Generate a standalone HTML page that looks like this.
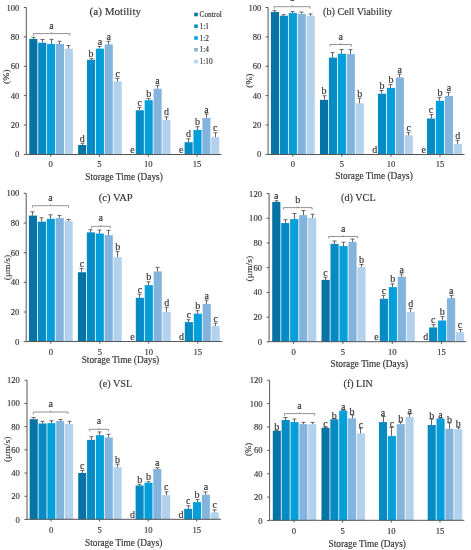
<!DOCTYPE html>
<html><head><meta charset="utf-8"><style>
html,body{margin:0;padding:0;background:#fff;}
body{width:471px;height:550px;overflow:hidden;}
svg{display:block;will-change:transform;}
text{font-family:"Liberation Serif", serif;fill:#333;stroke:#333;stroke-width:0.15px;}
</style></head><body>
<svg width="471" height="550" viewBox="0 0 471 550">
<rect width="471" height="550" fill="#fff"/>
<rect x="29.3" y="38.94" width="8.08" height="115.46" fill="#0573a5"/>
<path d="M33.5 38.94V37.32M31.5 37.32H35.5" stroke="#555" stroke-width="0.9" fill="none"/>
<rect x="38.18" y="42.76" width="8.08" height="111.64" fill="#078bc5"/>
<path d="M42.5 42.76V39.52M40.5 39.52H44.5" stroke="#555" stroke-width="0.9" fill="none"/>
<rect x="47.06" y="43.93" width="8.08" height="110.47" fill="#049fdb"/>
<path d="M51.5 43.93V39.38M49.5 39.38H53.5" stroke="#555" stroke-width="0.9" fill="none"/>
<rect x="55.94" y="43.93" width="8.08" height="110.47" fill="#82b4de"/>
<path d="M59.5 43.93V41.29M57.5 41.29H61.5" stroke="#555" stroke-width="0.9" fill="none"/>
<rect x="64.82" y="48.78" width="8.08" height="105.62" fill="#b2d1ed"/>
<path d="M68.5 48.78V45.55M66.5 45.55H70.5" stroke="#555" stroke-width="0.9" fill="none"/>
<rect x="78.1" y="145" width="8.08" height="9.4" fill="#0573a5"/>
<path d="M82.5 145V143.24M80.5 143.24H84.5" stroke="#555" stroke-width="0.9" fill="none"/>
<text x="82.14" y="141.74" font-size="10.0" text-anchor="middle">d</text>
<rect x="86.98" y="59.8" width="8.08" height="94.6" fill="#078bc5"/>
<path d="M91.5 59.8V58.62M89.5 58.62H93.5" stroke="#555" stroke-width="0.9" fill="none"/>
<text x="91.02" y="57.12" font-size="10.0" text-anchor="middle">b</text>
<rect x="95.86" y="48.63" width="8.08" height="105.77" fill="#049fdb"/>
<path d="M99.5 48.63V46.43M97.5 46.43H101.5" stroke="#555" stroke-width="0.9" fill="none"/>
<text x="99.9" y="44.93" font-size="10.0" text-anchor="middle">a</text>
<rect x="104.74" y="44.37" width="8.08" height="110.03" fill="#82b4de"/>
<path d="M108.5 44.37V41.29M106.5 41.29H110.5" stroke="#555" stroke-width="0.9" fill="none"/>
<text x="108.78" y="39.79" font-size="10.0" text-anchor="middle">a</text>
<rect x="113.62" y="81.39" width="8.08" height="73.01" fill="#b2d1ed"/>
<path d="M117.5 81.39V78.31M115.5 78.31H119.5" stroke="#555" stroke-width="0.9" fill="none"/>
<text x="117.66" y="76.81" font-size="10.0" text-anchor="middle">c</text>
<text x="132.54" y="152.6" font-size="10.0" text-anchor="middle">e</text>
<rect x="135.78" y="110.26" width="8.08" height="44.14" fill="#078bc5"/>
<path d="M139.5 110.26V107.47M137.5 107.47H141.5" stroke="#555" stroke-width="0.9" fill="none"/>
<text x="139.82" y="105.97" font-size="10.0" text-anchor="middle">c</text>
<rect x="144.66" y="100.19" width="8.08" height="54.21" fill="#049fdb"/>
<path d="M148.5 100.19V98.58M146.5 98.58H150.5" stroke="#555" stroke-width="0.9" fill="none"/>
<text x="148.7" y="97.08" font-size="10.0" text-anchor="middle">b</text>
<rect x="153.54" y="88.74" width="8.08" height="65.66" fill="#82b4de"/>
<path d="M157.5 88.74V85.36M155.5 85.36H159.5" stroke="#555" stroke-width="0.9" fill="none"/>
<text x="157.58" y="83.86" font-size="10.0" text-anchor="middle">a</text>
<rect x="162.42" y="120.1" width="8.08" height="34.3" fill="#b2d1ed"/>
<path d="M166.5 120.1V116.87M164.5 116.87H168.5" stroke="#555" stroke-width="0.9" fill="none"/>
<text x="166.46" y="115.37" font-size="10.0" text-anchor="middle">d</text>
<text x="181.34" y="152.6" font-size="10.0" text-anchor="middle">e</text>
<rect x="184.58" y="142.21" width="8.08" height="12.19" fill="#078bc5"/>
<path d="M188.5 142.21V138.83M186.5 138.83H190.5" stroke="#555" stroke-width="0.9" fill="none"/>
<text x="188.62" y="137.33" font-size="10.0" text-anchor="middle">d</text>
<rect x="193.46" y="129.87" width="8.08" height="24.53" fill="#049fdb"/>
<path d="M197.5 129.87V126.78M195.5 126.78H199.5" stroke="#555" stroke-width="0.9" fill="none"/>
<text x="197.5" y="125.28" font-size="10.0" text-anchor="middle">b</text>
<rect x="202.34" y="117.97" width="8.08" height="36.43" fill="#82b4de"/>
<path d="M206.5 117.97V114M204.5 114H208.5" stroke="#555" stroke-width="0.9" fill="none"/>
<text x="206.38" y="112.5" font-size="10.0" text-anchor="middle">a</text>
<rect x="211.22" y="137.07" width="8.08" height="17.33" fill="#b2d1ed"/>
<path d="M215.5 137.07V132.81M213.5 132.81H217.5" stroke="#555" stroke-width="0.9" fill="none"/>
<text x="215.26" y="131.31" font-size="10.0" text-anchor="middle">c</text>
<path d="M33.3 35.6V33.6H69.8V35.6M51.55 33.6V32.3" stroke="#777" stroke-width="0.8" fill="none"/>
<text x="51.55" y="28.7" font-size="10.0" text-anchor="middle">a</text>
<path d="M26.3 7.5V154.5H221.5" stroke="#555" stroke-width="1" fill="none"/>
<path d="M23.8 154.4H26.3" stroke="#555" stroke-width="1"/>
<text x="19.3" y="157.4" font-size="8.6" text-anchor="end">0</text>
<path d="M23.8 125.02H26.3" stroke="#555" stroke-width="1"/>
<text x="19.3" y="128.02" font-size="8.6" text-anchor="end">20</text>
<path d="M23.8 95.64H26.3" stroke="#555" stroke-width="1"/>
<text x="19.3" y="98.64" font-size="8.6" text-anchor="end">40</text>
<path d="M23.8 66.26H26.3" stroke="#555" stroke-width="1"/>
<text x="19.3" y="69.26" font-size="8.6" text-anchor="end">60</text>
<path d="M23.8 36.88H26.3" stroke="#555" stroke-width="1"/>
<text x="19.3" y="39.88" font-size="8.6" text-anchor="end">80</text>
<path d="M23.8 7.5H26.3" stroke="#555" stroke-width="1"/>
<text x="19.3" y="10.5" font-size="8.6" text-anchor="end">100</text>
<path d="M50.7 154.5V156.7" stroke="#555" stroke-width="1"/>
<text x="50.7" y="167.4" font-size="8.6" text-anchor="middle">0</text>
<path d="M99.5 154.5V156.7" stroke="#555" stroke-width="1"/>
<text x="99.5" y="167.4" font-size="8.6" text-anchor="middle">5</text>
<path d="M148.3 154.5V156.7" stroke="#555" stroke-width="1"/>
<text x="148.3" y="167.4" font-size="8.6" text-anchor="middle">10</text>
<path d="M197.1 154.5V156.7" stroke="#555" stroke-width="1"/>
<text x="197.1" y="167.4" font-size="8.6" text-anchor="middle">15</text>
<text x="89.6" y="14.9" font-size="11.1">(a) Motility</text>
<text x="85.3" y="180" font-size="9.3">Storage Time (Days)</text>
<text x="0" y="0" font-size="9.8" text-anchor="middle" dominant-baseline="central" transform="translate(6.7 76.7) rotate(-90) scale(1 0.86)">(%)</text>
<rect x="194.2" y="12.7" width="3.6" height="3.6" fill="#0573a5"/>
<text x="199.6" y="17" font-size="7.3">Control</text>
<rect x="194.2" y="24.45" width="3.6" height="3.6" fill="#078bc5"/>
<text x="199.6" y="28.75" font-size="7.3">1:1</text>
<rect x="194.2" y="36.2" width="3.6" height="3.6" fill="#049fdb"/>
<text x="199.6" y="40.5" font-size="7.3">1:2</text>
<rect x="194.2" y="47.95" width="3.6" height="3.6" fill="#82b4de"/>
<text x="199.6" y="52.25" font-size="7.3">1:4</text>
<rect x="194.2" y="59.7" width="3.6" height="3.6" fill="#b2d1ed"/>
<text x="199.6" y="64" font-size="7.3">1:10</text>
<rect x="270.91" y="12.05" width="8.13" height="142.35" fill="#0573a5"/>
<path d="M274.5 12.05V10.73M272.5 10.73H276.5" stroke="#555" stroke-width="0.9" fill="none"/>
<rect x="279.83" y="15.73" width="8.13" height="138.67" fill="#078bc5"/>
<path d="M283.5 15.73V14.7M281.5 14.7H285.5" stroke="#555" stroke-width="0.9" fill="none"/>
<rect x="288.76" y="13.08" width="8.13" height="141.32" fill="#049fdb"/>
<path d="M292.5 13.08V11.61M290.5 11.61H294.5" stroke="#555" stroke-width="0.9" fill="none"/>
<rect x="297.69" y="13.82" width="8.13" height="140.58" fill="#82b4de"/>
<path d="M301.5 13.82V12.05M299.5 12.05H303.5" stroke="#555" stroke-width="0.9" fill="none"/>
<rect x="306.62" y="15.73" width="8.13" height="138.67" fill="#b2d1ed"/>
<path d="M310.5 15.73V13.96M308.5 13.96H312.5" stroke="#555" stroke-width="0.9" fill="none"/>
<rect x="319.96" y="99.9" width="8.13" height="54.5" fill="#0573a5"/>
<path d="M324.5 99.9V95.79M322.5 95.79H326.5" stroke="#555" stroke-width="0.9" fill="none"/>
<text x="324.02" y="94.29" font-size="10.0" text-anchor="middle">b</text>
<rect x="328.88" y="57.59" width="8.13" height="96.81" fill="#078bc5"/>
<path d="M332.5 57.59V52.6M330.5 52.6H334.5" stroke="#555" stroke-width="0.9" fill="none"/>
<rect x="337.81" y="53.77" width="8.13" height="100.63" fill="#049fdb"/>
<path d="M341.5 53.77V49.51M339.5 49.51H343.5" stroke="#555" stroke-width="0.9" fill="none"/>
<rect x="346.74" y="54.07" width="8.13" height="100.33" fill="#82b4de"/>
<path d="M350.5 54.07V49.66M348.5 49.66H352.5" stroke="#555" stroke-width="0.9" fill="none"/>
<rect x="355.67" y="103.28" width="8.13" height="51.12" fill="#b2d1ed"/>
<path d="M359.5 103.28V98.14M357.5 98.14H361.5" stroke="#555" stroke-width="0.9" fill="none"/>
<text x="359.73" y="96.64" font-size="10.0" text-anchor="middle">b</text>
<text x="374.67" y="152.6" font-size="10.0" text-anchor="middle">d</text>
<rect x="377.93" y="93.73" width="8.13" height="60.67" fill="#078bc5"/>
<path d="M381.5 93.73V90.5M379.5 90.5H383.5" stroke="#555" stroke-width="0.9" fill="none"/>
<text x="382" y="89" font-size="10.0" text-anchor="middle">b</text>
<rect x="386.86" y="87.85" width="8.13" height="66.55" fill="#049fdb"/>
<path d="M390.5 87.85V84.62M388.5 84.62H392.5" stroke="#555" stroke-width="0.9" fill="none"/>
<text x="390.93" y="83.12" font-size="10.0" text-anchor="middle">b</text>
<rect x="395.79" y="77.42" width="8.13" height="76.98" fill="#82b4de"/>
<path d="M399.5 77.42V74.19M397.5 74.19H401.5" stroke="#555" stroke-width="0.9" fill="none"/>
<text x="399.85" y="72.69" font-size="10.0" text-anchor="middle">a</text>
<rect x="404.72" y="135.3" width="8.13" height="19.1" fill="#b2d1ed"/>
<path d="M408.5 135.3V132.37M406.5 132.37H410.5" stroke="#555" stroke-width="0.9" fill="none"/>
<text x="408.78" y="130.87" font-size="10.0" text-anchor="middle">c</text>
<text x="423.72" y="152.6" font-size="10.0" text-anchor="middle">e</text>
<rect x="426.98" y="118.56" width="8.13" height="35.84" fill="#078bc5"/>
<path d="M431.5 118.56V114.59M429.5 114.59H433.5" stroke="#555" stroke-width="0.9" fill="none"/>
<text x="431.05" y="113.09" font-size="10.0" text-anchor="middle">c</text>
<rect x="435.91" y="100.78" width="8.13" height="53.62" fill="#049fdb"/>
<path d="M439.5 100.78V97.4M437.5 97.4H441.5" stroke="#555" stroke-width="0.9" fill="none"/>
<text x="439.98" y="95.9" font-size="10.0" text-anchor="middle">b</text>
<rect x="444.84" y="95.93" width="8.13" height="58.47" fill="#82b4de"/>
<path d="M448.5 95.93V92.41M446.5 92.41H450.5" stroke="#555" stroke-width="0.9" fill="none"/>
<text x="448.9" y="90.91" font-size="10.0" text-anchor="middle">a</text>
<rect x="453.77" y="143.97" width="8.13" height="10.43" fill="#b2d1ed"/>
<path d="M457.5 143.97V140.3M455.5 140.3H459.5" stroke="#555" stroke-width="0.9" fill="none"/>
<text x="457.83" y="138.8" font-size="10.0" text-anchor="middle">d</text>
<path d="M274.2 8.7V6.7H310.1V8.7M292.15 6.7V5.4" stroke="#777" stroke-width="0.8" fill="none"/>
<text x="292.15" y="1" font-size="10.0" text-anchor="middle">a</text>
<path d="M330 46.5V44.5H351.4V46.5M340.7 44.5V43.2" stroke="#777" stroke-width="0.8" fill="none"/>
<text x="340.7" y="39.6" font-size="10.0" text-anchor="middle">a</text>
<path d="M268.1 7.5V154.5H464.5" stroke="#555" stroke-width="1" fill="none"/>
<path d="M265.6 154.4H268.1" stroke="#555" stroke-width="1"/>
<text x="261.3" y="157.4" font-size="8.6" text-anchor="end">0</text>
<path d="M265.6 125.02H268.1" stroke="#555" stroke-width="1"/>
<text x="261.3" y="128.02" font-size="8.6" text-anchor="end">20</text>
<path d="M265.6 95.64H268.1" stroke="#555" stroke-width="1"/>
<text x="261.3" y="98.64" font-size="8.6" text-anchor="end">40</text>
<path d="M265.6 66.26H268.1" stroke="#555" stroke-width="1"/>
<text x="261.3" y="69.26" font-size="8.6" text-anchor="end">60</text>
<path d="M265.6 36.88H268.1" stroke="#555" stroke-width="1"/>
<text x="261.3" y="39.88" font-size="8.6" text-anchor="end">80</text>
<path d="M265.6 7.5H268.1" stroke="#555" stroke-width="1"/>
<text x="261.3" y="10.5" font-size="8.6" text-anchor="end">100</text>
<path d="M292.82 154.5V156.7" stroke="#555" stroke-width="1"/>
<text x="292.82" y="167.4" font-size="8.6" text-anchor="middle">0</text>
<path d="M341.88 154.5V156.7" stroke="#555" stroke-width="1"/>
<text x="341.88" y="167.4" font-size="8.6" text-anchor="middle">5</text>
<path d="M390.93 154.5V156.7" stroke="#555" stroke-width="1"/>
<text x="390.93" y="167.4" font-size="8.6" text-anchor="middle">10</text>
<path d="M439.98 154.5V156.7" stroke="#555" stroke-width="1"/>
<text x="439.98" y="167.4" font-size="8.6" text-anchor="middle">15</text>
<text x="323" y="14.9" font-size="10.2">(b) Cell Viability</text>
<text x="335.3" y="178.5" font-size="9.3">Storage Time (Days)</text>
<text x="0" y="0" font-size="9.3" text-anchor="middle" dominant-baseline="central" transform="translate(249.5 80.7) rotate(-90) scale(1 0.86)">(%)</text>
<rect x="28.9" y="215.56" width="8.12" height="126.14" fill="#0573a5"/>
<path d="M32.5 215.56V211.85M30.5 211.85H34.5" stroke="#555" stroke-width="0.9" fill="none"/>
<rect x="37.82" y="221.64" width="8.12" height="120.06" fill="#078bc5"/>
<path d="M41.5 221.64V217.79M39.5 217.79H43.5" stroke="#555" stroke-width="0.9" fill="none"/>
<rect x="46.74" y="218.82" width="8.12" height="122.88" fill="#049fdb"/>
<path d="M50.5 218.82V214.82M48.5 214.82H52.5" stroke="#555" stroke-width="0.9" fill="none"/>
<rect x="55.66" y="218.08" width="8.12" height="123.62" fill="#82b4de"/>
<path d="M59.5 218.08V215.41M57.5 215.41H61.5" stroke="#555" stroke-width="0.9" fill="none"/>
<rect x="64.58" y="221.05" width="8.12" height="120.65" fill="#b2d1ed"/>
<path d="M68.5 221.05V219.57M66.5 219.57H70.5" stroke="#555" stroke-width="0.9" fill="none"/>
<rect x="77.91" y="272.25" width="8.12" height="69.45" fill="#0573a5"/>
<path d="M81.5 272.25V268.54M79.5 268.54H83.5" stroke="#555" stroke-width="0.9" fill="none"/>
<text x="81.96" y="267.04" font-size="10.0" text-anchor="middle">c</text>
<rect x="86.82" y="232.33" width="8.12" height="109.37" fill="#078bc5"/>
<path d="M90.5 232.33V229.81M88.5 229.81H92.5" stroke="#555" stroke-width="0.9" fill="none"/>
<rect x="95.74" y="233.52" width="8.12" height="108.18" fill="#049fdb"/>
<path d="M99.5 233.52V230.1M97.5 230.1H101.5" stroke="#555" stroke-width="0.9" fill="none"/>
<rect x="104.66" y="235.15" width="8.12" height="106.55" fill="#82b4de"/>
<path d="M108.5 235.15V230.4M106.5 230.4H110.5" stroke="#555" stroke-width="0.9" fill="none"/>
<rect x="113.58" y="257.26" width="8.12" height="84.44" fill="#b2d1ed"/>
<path d="M117.5 257.26V251.32M115.5 251.32H119.5" stroke="#555" stroke-width="0.9" fill="none"/>
<text x="117.64" y="249.82" font-size="10.0" text-anchor="middle">b</text>
<text x="132.56" y="339.9" font-size="10.0" text-anchor="middle">e</text>
<rect x="135.82" y="297.77" width="8.12" height="43.93" fill="#078bc5"/>
<path d="M139.5 297.77V294.21M137.5 294.21H141.5" stroke="#555" stroke-width="0.9" fill="none"/>
<text x="139.88" y="292.71" font-size="10.0" text-anchor="middle">c</text>
<rect x="144.74" y="285.16" width="8.12" height="56.54" fill="#049fdb"/>
<path d="M148.5 285.16V281.89M146.5 281.89H150.5" stroke="#555" stroke-width="0.9" fill="none"/>
<text x="148.8" y="280.39" font-size="10.0" text-anchor="middle">b</text>
<rect x="153.66" y="271.36" width="8.12" height="70.34" fill="#82b4de"/>
<path d="M157.5 271.36V267.35M155.5 267.35H159.5" stroke="#555" stroke-width="0.9" fill="none"/>
<rect x="162.58" y="311.87" width="8.12" height="29.83" fill="#b2d1ed"/>
<path d="M166.5 311.87V307.27M164.5 307.27H168.5" stroke="#555" stroke-width="0.9" fill="none"/>
<text x="166.64" y="305.77" font-size="10.0" text-anchor="middle">d</text>
<text x="181.56" y="339.9" font-size="10.0" text-anchor="middle">d</text>
<rect x="184.82" y="322.11" width="8.12" height="19.59" fill="#078bc5"/>
<path d="M188.5 322.11V319.74M186.5 319.74H190.5" stroke="#555" stroke-width="0.9" fill="none"/>
<text x="188.88" y="318.24" font-size="10.0" text-anchor="middle">c</text>
<rect x="193.74" y="313.65" width="8.12" height="28.05" fill="#049fdb"/>
<path d="M197.5 313.65V310.68M195.5 310.68H199.5" stroke="#555" stroke-width="0.9" fill="none"/>
<text x="197.8" y="309.18" font-size="10.0" text-anchor="middle">b</text>
<rect x="202.66" y="303.86" width="8.12" height="37.84" fill="#82b4de"/>
<path d="M206.5 303.86V300.15M204.5 300.15H208.5" stroke="#555" stroke-width="0.9" fill="none"/>
<text x="206.72" y="298.65" font-size="10.0" text-anchor="middle">a</text>
<rect x="211.58" y="326.12" width="8.12" height="15.58" fill="#b2d1ed"/>
<path d="M215.5 326.12V323.15M213.5 323.15H217.5" stroke="#555" stroke-width="0.9" fill="none"/>
<text x="215.64" y="321.65" font-size="10.0" text-anchor="middle">c</text>
<path d="M32.4 207.7V205.7H68.5V207.7M50.45 205.7V204.4" stroke="#777" stroke-width="0.8" fill="none"/>
<text x="50.45" y="200.8" font-size="10.0" text-anchor="middle">a</text>
<path d="M91.5 228.3V226.3H110.2V228.3M100.85 226.3V225" stroke="#777" stroke-width="0.8" fill="none"/>
<text x="100.85" y="221.4" font-size="10.0" text-anchor="middle">a</text>
<path d="M26.2 193.3V341.5H222.3" stroke="#555" stroke-width="1" fill="none"/>
<path d="M23.7 341.7H26.2" stroke="#555" stroke-width="1"/>
<text x="19.3" y="344.7" font-size="8.6" text-anchor="end">0</text>
<path d="M23.7 312.02H26.2" stroke="#555" stroke-width="1"/>
<text x="19.3" y="315.02" font-size="8.6" text-anchor="end">20</text>
<path d="M23.7 282.34H26.2" stroke="#555" stroke-width="1"/>
<text x="19.3" y="285.34" font-size="8.6" text-anchor="end">40</text>
<path d="M23.7 252.66H26.2" stroke="#555" stroke-width="1"/>
<text x="19.3" y="255.66" font-size="8.6" text-anchor="end">60</text>
<path d="M23.7 222.98H26.2" stroke="#555" stroke-width="1"/>
<text x="19.3" y="225.98" font-size="8.6" text-anchor="end">80</text>
<path d="M23.7 193.3H26.2" stroke="#555" stroke-width="1"/>
<text x="19.3" y="196.3" font-size="8.6" text-anchor="end">100</text>
<path d="M50.8 341.5V343.7" stroke="#555" stroke-width="1"/>
<text x="50.8" y="354.7" font-size="8.6" text-anchor="middle">0</text>
<path d="M99.8 341.5V343.7" stroke="#555" stroke-width="1"/>
<text x="99.8" y="354.7" font-size="8.6" text-anchor="middle">5</text>
<path d="M148.8 341.5V343.7" stroke="#555" stroke-width="1"/>
<text x="148.8" y="354.7" font-size="8.6" text-anchor="middle">10</text>
<path d="M197.8 341.5V343.7" stroke="#555" stroke-width="1"/>
<text x="197.8" y="354.7" font-size="8.6" text-anchor="middle">15</text>
<text x="98.7" y="200.9" font-size="10.6">(c) VAP</text>
<text x="81.7" y="362.9" font-size="9.3">Storage Time (Days)</text>
<text x="0" y="0" font-size="9.7" text-anchor="middle" dominant-baseline="central" transform="translate(7.3 267.5) rotate(-90) scale(1 0.86)">(μm/s)</text>
<rect x="272.22" y="202.03" width="8.17" height="139.87" fill="#0573a5"/>
<path d="M276.5 202.03V200.8M274.5 200.8H278.5" stroke="#555" stroke-width="0.9" fill="none"/>
<text x="276.3" y="199.3" font-size="10.0" text-anchor="middle">a</text>
<rect x="281.19" y="223.06" width="8.17" height="118.84" fill="#078bc5"/>
<path d="M285.5 223.06V219.72M283.5 219.72H287.5" stroke="#555" stroke-width="0.9" fill="none"/>
<rect x="290.16" y="219.1" width="8.17" height="122.8" fill="#049fdb"/>
<path d="M294.5 219.1V213.53M292.5 213.53H296.5" stroke="#555" stroke-width="0.9" fill="none"/>
<rect x="299.14" y="215.14" width="8.17" height="126.76" fill="#82b4de"/>
<path d="M303.5 215.14V210.57M301.5 210.57H305.5" stroke="#555" stroke-width="0.9" fill="none"/>
<rect x="308.11" y="217.99" width="8.17" height="123.91" fill="#b2d1ed"/>
<path d="M312.5 217.99V214.28M310.5 214.28H314.5" stroke="#555" stroke-width="0.9" fill="none"/>
<rect x="321.52" y="279.82" width="8.17" height="62.08" fill="#0573a5"/>
<path d="M325.5 279.82V277.22M323.5 277.22H327.5" stroke="#555" stroke-width="0.9" fill="none"/>
<text x="325.6" y="275.72" font-size="10.0" text-anchor="middle">c</text>
<rect x="330.49" y="243.83" width="8.17" height="98.07" fill="#078bc5"/>
<path d="M334.5 243.83V240.99M332.5 240.99H336.5" stroke="#555" stroke-width="0.9" fill="none"/>
<rect x="339.46" y="246.06" width="8.17" height="95.84" fill="#049fdb"/>
<path d="M343.5 246.06V242.22M341.5 242.22H345.5" stroke="#555" stroke-width="0.9" fill="none"/>
<rect x="348.44" y="241.85" width="8.17" height="100.05" fill="#82b4de"/>
<path d="M352.5 241.85V239.01M350.5 239.01H354.5" stroke="#555" stroke-width="0.9" fill="none"/>
<rect x="357.41" y="267.08" width="8.17" height="74.82" fill="#b2d1ed"/>
<path d="M361.5 267.08V264.48M359.5 264.48H363.5" stroke="#555" stroke-width="0.9" fill="none"/>
<text x="361.5" y="262.98" font-size="10.0" text-anchor="middle">b</text>
<text x="376.5" y="340.1" font-size="10.0" text-anchor="middle">e</text>
<rect x="379.79" y="298.74" width="8.17" height="43.16" fill="#078bc5"/>
<path d="M383.5 298.74V295.28M381.5 295.28H385.5" stroke="#555" stroke-width="0.9" fill="none"/>
<text x="383.88" y="293.78" font-size="10.0" text-anchor="middle">c</text>
<rect x="388.76" y="287.12" width="8.17" height="54.78" fill="#049fdb"/>
<path d="M392.5 287.12V283.9M390.5 283.9H394.5" stroke="#555" stroke-width="0.9" fill="none"/>
<text x="392.85" y="282.4" font-size="10.0" text-anchor="middle">b</text>
<rect x="397.74" y="276.6" width="8.17" height="65.3" fill="#82b4de"/>
<path d="M401.5 276.6V274.01M399.5 274.01H403.5" stroke="#555" stroke-width="0.9" fill="none"/>
<text x="401.82" y="272.51" font-size="10.0" text-anchor="middle">a</text>
<rect x="406.71" y="311.85" width="8.17" height="30.05" fill="#b2d1ed"/>
<path d="M410.5 311.85V308.39M408.5 308.39H412.5" stroke="#555" stroke-width="0.9" fill="none"/>
<text x="410.8" y="306.89" font-size="10.0" text-anchor="middle">d</text>
<text x="425.8" y="340.1" font-size="10.0" text-anchor="middle">d</text>
<rect x="429.09" y="327.43" width="8.17" height="14.47" fill="#078bc5"/>
<path d="M433.5 327.43V324.59M431.5 324.59H435.5" stroke="#555" stroke-width="0.9" fill="none"/>
<text x="433.18" y="323.09" font-size="10.0" text-anchor="middle">c</text>
<rect x="438.06" y="320.51" width="8.17" height="21.39" fill="#049fdb"/>
<path d="M442.5 320.51V316.67M440.5 316.67H444.5" stroke="#555" stroke-width="0.9" fill="none"/>
<text x="442.15" y="315.17" font-size="10.0" text-anchor="middle">b</text>
<rect x="447.04" y="298.12" width="8.17" height="43.78" fill="#82b4de"/>
<path d="M451.5 298.12V295.4M449.5 295.4H453.5" stroke="#555" stroke-width="0.9" fill="none"/>
<text x="451.12" y="293.9" font-size="10.0" text-anchor="middle">a</text>
<rect x="456.01" y="332.25" width="8.17" height="9.65" fill="#b2d1ed"/>
<path d="M460.5 332.25V329.53M458.5 329.53H462.5" stroke="#555" stroke-width="0.9" fill="none"/>
<text x="460.1" y="328.03" font-size="10.0" text-anchor="middle">c</text>
<path d="M283.4 209.6V207.6H312.1V209.6M297.75 207.6V206.3" stroke="#777" stroke-width="0.8" fill="none"/>
<text x="297.75" y="202.7" font-size="10.0" text-anchor="middle">b</text>
<path d="M328.8 238.5V236.5H357.7V238.5M343.25 236.5V235.2" stroke="#777" stroke-width="0.8" fill="none"/>
<text x="343.25" y="231.6" font-size="10.0" text-anchor="middle">a</text>
<path d="M269.1 193.5V341.7H466.2" stroke="#555" stroke-width="1" fill="none"/>
<path d="M266.6 341.9H269.1" stroke="#555" stroke-width="1"/>
<text x="262" y="344.9" font-size="8.6" text-anchor="end">0</text>
<path d="M266.6 317.17H269.1" stroke="#555" stroke-width="1"/>
<text x="262" y="320.17" font-size="8.6" text-anchor="end">20</text>
<path d="M266.6 292.43H269.1" stroke="#555" stroke-width="1"/>
<text x="262" y="295.43" font-size="8.6" text-anchor="end">40</text>
<path d="M266.6 267.7H269.1" stroke="#555" stroke-width="1"/>
<text x="262" y="270.7" font-size="8.6" text-anchor="end">60</text>
<path d="M266.6 242.97H269.1" stroke="#555" stroke-width="1"/>
<text x="262" y="245.97" font-size="8.6" text-anchor="end">80</text>
<path d="M266.6 218.23H269.1" stroke="#555" stroke-width="1"/>
<text x="262" y="221.23" font-size="8.6" text-anchor="end">100</text>
<path d="M266.6 193.5H269.1" stroke="#555" stroke-width="1"/>
<text x="262" y="196.5" font-size="8.6" text-anchor="end">120</text>
<path d="M293.65 341.7V343.9" stroke="#555" stroke-width="1"/>
<text x="293.65" y="354.9" font-size="8.6" text-anchor="middle">0</text>
<path d="M342.95 341.7V343.9" stroke="#555" stroke-width="1"/>
<text x="342.95" y="354.9" font-size="8.6" text-anchor="middle">5</text>
<path d="M392.25 341.7V343.9" stroke="#555" stroke-width="1"/>
<text x="392.25" y="354.9" font-size="8.6" text-anchor="middle">10</text>
<path d="M441.55 341.7V343.9" stroke="#555" stroke-width="1"/>
<text x="441.55" y="354.9" font-size="8.6" text-anchor="middle">15</text>
<text x="341" y="201.3" font-size="10.2">(d) VCL</text>
<text x="330.6" y="366.8" font-size="9.3">Storage Time (Days)</text>
<text x="0" y="0" font-size="9.7" text-anchor="middle" dominant-baseline="central" transform="translate(249.3 268.6) rotate(-90) scale(1 0.86)">(μm/s)</text>
<rect x="29.68" y="419.2" width="8.04" height="100.3" fill="#0573a5"/>
<path d="M33.5 419.2V417.46M31.5 417.46H35.5" stroke="#555" stroke-width="0.9" fill="none"/>
<rect x="38.52" y="423.5" width="8.04" height="96" fill="#078bc5"/>
<path d="M42.5 423.5V421.29M40.5 421.29H44.5" stroke="#555" stroke-width="0.9" fill="none"/>
<rect x="47.36" y="423.15" width="8.04" height="96.35" fill="#049fdb"/>
<path d="M51.5 423.15V420.71M49.5 420.71H53.5" stroke="#555" stroke-width="0.9" fill="none"/>
<rect x="56.19" y="420.95" width="8.04" height="98.55" fill="#82b4de"/>
<path d="M60.5 420.95V419.44M58.5 419.44H62.5" stroke="#555" stroke-width="0.9" fill="none"/>
<rect x="65.03" y="423.85" width="8.04" height="95.65" fill="#b2d1ed"/>
<path d="M69.5 423.85V421.29M67.5 421.29H71.5" stroke="#555" stroke-width="0.9" fill="none"/>
<rect x="78.23" y="472.95" width="8.04" height="46.55" fill="#0573a5"/>
<path d="M82.5 472.95V470.4M80.5 470.4H84.5" stroke="#555" stroke-width="0.9" fill="none"/>
<text x="82.25" y="468.9" font-size="10.0" text-anchor="middle">c</text>
<rect x="87.07" y="439.87" width="8.04" height="79.63" fill="#078bc5"/>
<path d="M91.5 439.87V436.73M89.5 436.73H93.5" stroke="#555" stroke-width="0.9" fill="none"/>
<rect x="95.91" y="435.22" width="8.04" height="84.28" fill="#049fdb"/>
<path d="M99.5 435.22V431.97M97.5 431.97H101.5" stroke="#555" stroke-width="0.9" fill="none"/>
<rect x="104.74" y="437.43" width="8.04" height="82.07" fill="#82b4de"/>
<path d="M108.5 437.43V434.29M106.5 434.29H110.5" stroke="#555" stroke-width="0.9" fill="none"/>
<rect x="113.58" y="467.26" width="8.04" height="52.24" fill="#b2d1ed"/>
<path d="M117.5 467.26V464.13M115.5 464.13H119.5" stroke="#555" stroke-width="0.9" fill="none"/>
<text x="117.6" y="462.63" font-size="10.0" text-anchor="middle">b</text>
<text x="132.4" y="517.7" font-size="10.0" text-anchor="middle">d</text>
<rect x="135.62" y="485.49" width="8.04" height="34.01" fill="#078bc5"/>
<path d="M139.5 485.49V484.33M137.5 484.33H141.5" stroke="#555" stroke-width="0.9" fill="none"/>
<text x="139.64" y="482.83" font-size="10.0" text-anchor="middle">b</text>
<rect x="144.46" y="482.7" width="8.04" height="36.8" fill="#049fdb"/>
<path d="M148.5 482.7V481.66M146.5 481.66H150.5" stroke="#555" stroke-width="0.9" fill="none"/>
<text x="148.48" y="480.16" font-size="10.0" text-anchor="middle">b</text>
<rect x="153.29" y="469" width="8.04" height="50.5" fill="#82b4de"/>
<path d="M157.5 469V467.73M155.5 467.73H159.5" stroke="#555" stroke-width="0.9" fill="none"/>
<text x="157.31" y="466.23" font-size="10.0" text-anchor="middle">a</text>
<rect x="162.13" y="495.12" width="8.04" height="24.38" fill="#b2d1ed"/>
<path d="M166.5 495.12V491.87M164.5 491.87H168.5" stroke="#555" stroke-width="0.9" fill="none"/>
<text x="166.15" y="490.37" font-size="10.0" text-anchor="middle">c</text>
<text x="180.95" y="517.7" font-size="10.0" text-anchor="middle">d</text>
<rect x="184.17" y="508.82" width="8.04" height="10.68" fill="#078bc5"/>
<path d="M188.5 508.82V505.8M186.5 505.8H190.5" stroke="#555" stroke-width="0.9" fill="none"/>
<text x="188.19" y="504.3" font-size="10.0" text-anchor="middle">c</text>
<rect x="193.01" y="502.09" width="8.04" height="17.41" fill="#049fdb"/>
<path d="M197.5 502.09V499.65M195.5 499.65H199.5" stroke="#555" stroke-width="0.9" fill="none"/>
<text x="197.03" y="498.15" font-size="10.0" text-anchor="middle">b</text>
<rect x="201.84" y="494.66" width="8.04" height="24.84" fill="#82b4de"/>
<path d="M205.5 494.66V491.99M203.5 491.99H207.5" stroke="#555" stroke-width="0.9" fill="none"/>
<text x="205.86" y="490.49" font-size="10.0" text-anchor="middle">a</text>
<rect x="210.68" y="512.42" width="8.04" height="7.08" fill="#b2d1ed"/>
<path d="M214.5 512.42V509.87M212.5 509.87H216.5" stroke="#555" stroke-width="0.9" fill="none"/>
<text x="214.7" y="508.37" font-size="10.0" text-anchor="middle">c</text>
<path d="M33.4 414V412H67.9V414M50.65 412V410.7" stroke="#777" stroke-width="0.8" fill="none"/>
<text x="50.65" y="407.1" font-size="10.0" text-anchor="middle">a</text>
<path d="M89.4 431.3V429.3H108.4V431.3M98.9 429.3V428" stroke="#777" stroke-width="0.8" fill="none"/>
<text x="98.9" y="424.4" font-size="10.0" text-anchor="middle">a</text>
<path d="M27 380.2V519.3H221" stroke="#555" stroke-width="1" fill="none"/>
<path d="M24.5 519.5H27" stroke="#555" stroke-width="1"/>
<text x="19.8" y="522.5" font-size="8.6" text-anchor="end">0</text>
<path d="M24.5 496.28H27" stroke="#555" stroke-width="1"/>
<text x="19.8" y="499.28" font-size="8.6" text-anchor="end">20</text>
<path d="M24.5 473.07H27" stroke="#555" stroke-width="1"/>
<text x="19.8" y="476.07" font-size="8.6" text-anchor="end">40</text>
<path d="M24.5 449.85H27" stroke="#555" stroke-width="1"/>
<text x="19.8" y="452.85" font-size="8.6" text-anchor="end">60</text>
<path d="M24.5 426.63H27" stroke="#555" stroke-width="1"/>
<text x="19.8" y="429.63" font-size="8.6" text-anchor="end">80</text>
<path d="M24.5 403.42H27" stroke="#555" stroke-width="1"/>
<text x="19.8" y="406.42" font-size="8.6" text-anchor="end">100</text>
<path d="M24.5 380.2H27" stroke="#555" stroke-width="1"/>
<text x="19.8" y="383.2" font-size="8.6" text-anchor="end">120</text>
<path d="M51.08 519.3V521.5" stroke="#555" stroke-width="1"/>
<text x="51.08" y="532.5" font-size="8.6" text-anchor="middle">0</text>
<path d="M99.62 519.3V521.5" stroke="#555" stroke-width="1"/>
<text x="99.62" y="532.5" font-size="8.6" text-anchor="middle">5</text>
<path d="M148.18 519.3V521.5" stroke="#555" stroke-width="1"/>
<text x="148.18" y="532.5" font-size="8.6" text-anchor="middle">10</text>
<path d="M196.72 519.3V521.5" stroke="#555" stroke-width="1"/>
<text x="196.72" y="532.5" font-size="8.6" text-anchor="middle">15</text>
<text x="99.3" y="387.2" font-size="10.2">(e) VSL</text>
<text x="85" y="545.5" font-size="9.3">Storage Time (Days)</text>
<text x="0" y="0" font-size="9.7" text-anchor="middle" dominant-baseline="central" transform="translate(6.9 449.3) rotate(-90) scale(1 0.86)">(μm/s)</text>
<rect x="272.79" y="430.82" width="8.06" height="89.68" fill="#0573a5"/>
<path d="M276.5 430.82V430.36M274.5 430.36H278.5" stroke="#555" stroke-width="0.9" fill="none"/>
<text x="276.82" y="430.16" font-size="10.0" text-anchor="middle">b</text>
<rect x="281.65" y="419.95" width="8.06" height="100.55" fill="#078bc5"/>
<path d="M285.5 419.95V417.5M283.5 417.5H287.5" stroke="#555" stroke-width="0.9" fill="none"/>
<rect x="290.51" y="422.06" width="8.06" height="98.44" fill="#049fdb"/>
<path d="M294.5 422.06V419.02M292.5 419.02H296.5" stroke="#555" stroke-width="0.9" fill="none"/>
<rect x="299.37" y="424.16" width="8.06" height="96.34" fill="#82b4de"/>
<path d="M303.5 424.16V422.41M301.5 422.41H305.5" stroke="#555" stroke-width="0.9" fill="none"/>
<rect x="308.23" y="424.16" width="8.06" height="96.34" fill="#b2d1ed"/>
<path d="M312.5 424.16V422.41M310.5 422.41H314.5" stroke="#555" stroke-width="0.9" fill="none"/>
<rect x="321.47" y="427.79" width="8.06" height="92.71" fill="#0573a5"/>
<path d="M325.5 427.79V427.32M323.5 427.32H327.5" stroke="#555" stroke-width="0.9" fill="none"/>
<text x="325.49" y="427.12" font-size="10.0" text-anchor="middle">c</text>
<rect x="330.32" y="419.25" width="8.06" height="101.25" fill="#078bc5"/>
<path d="M334.5 419.25V418.78M332.5 418.78H336.5" stroke="#555" stroke-width="0.9" fill="none"/>
<text x="334.35" y="418.58" font-size="10.0" text-anchor="middle">b</text>
<rect x="339.18" y="410.6" width="8.06" height="109.9" fill="#049fdb"/>
<path d="M343.5 410.6V410.13M341.5 410.13H345.5" stroke="#555" stroke-width="0.9" fill="none"/>
<text x="343.21" y="409.93" font-size="10.0" text-anchor="middle">a</text>
<rect x="348.04" y="418.31" width="8.06" height="102.19" fill="#82b4de"/>
<path d="M352.5 418.31V414.92M350.5 414.92H354.5" stroke="#555" stroke-width="0.9" fill="none"/>
<text x="352.07" y="414.72" font-size="10.0" text-anchor="middle">b</text>
<rect x="356.9" y="433.4" width="8.06" height="87.1" fill="#b2d1ed"/>
<path d="M360.5 433.4V428.14M358.5 428.14H362.5" stroke="#555" stroke-width="0.9" fill="none"/>
<text x="360.93" y="427.94" font-size="10.0" text-anchor="middle">c</text>
<rect x="379" y="422.06" width="8.06" height="98.44" fill="#078bc5"/>
<path d="M383.5 422.06V416.44M381.5 416.44H385.5" stroke="#555" stroke-width="0.9" fill="none"/>
<text x="383.03" y="416.24" font-size="10.0" text-anchor="middle">a</text>
<rect x="387.86" y="436.09" width="8.06" height="84.41" fill="#049fdb"/>
<path d="M391.5 436.09V427.55M389.5 427.55H393.5" stroke="#555" stroke-width="0.9" fill="none"/>
<text x="391.89" y="427.35" font-size="10.0" text-anchor="middle">c</text>
<rect x="396.72" y="424.16" width="8.06" height="96.34" fill="#82b4de"/>
<path d="M400.5 424.16V422.29M398.5 422.29H402.5" stroke="#555" stroke-width="0.9" fill="none"/>
<text x="400.75" y="422.09" font-size="10.0" text-anchor="middle">b</text>
<rect x="405.58" y="417.03" width="8.06" height="103.47" fill="#b2d1ed"/>
<path d="M409.5 417.03V413.87M407.5 413.87H411.5" stroke="#555" stroke-width="0.9" fill="none"/>
<text x="409.61" y="413.67" font-size="10.0" text-anchor="middle">a</text>
<rect x="427.67" y="424.98" width="8.06" height="95.52" fill="#078bc5"/>
<path d="M431.5 424.98V419.13M429.5 419.13H433.5" stroke="#555" stroke-width="0.9" fill="none"/>
<text x="431.7" y="418.93" font-size="10.0" text-anchor="middle">b</text>
<rect x="436.53" y="418.55" width="8.06" height="101.95" fill="#049fdb"/>
<path d="M440.5 418.55V417.96M438.5 417.96H442.5" stroke="#555" stroke-width="0.9" fill="none"/>
<text x="440.56" y="417.76" font-size="10.0" text-anchor="middle">a</text>
<rect x="445.39" y="428.72" width="8.06" height="91.78" fill="#82b4de"/>
<path d="M449.5 428.72V422.87M447.5 422.87H451.5" stroke="#555" stroke-width="0.9" fill="none"/>
<text x="449.42" y="422.67" font-size="10.0" text-anchor="middle">b</text>
<rect x="454.25" y="429.19" width="8.06" height="91.31" fill="#b2d1ed"/>
<path d="M458.5 429.19V427.67M456.5 427.67H460.5" stroke="#555" stroke-width="0.9" fill="none"/>
<text x="458.28" y="427.47" font-size="10.0" text-anchor="middle">b</text>
<path d="M284.5 415.6V413.6H314.7V415.6M299.6 413.6V412.3" stroke="#777" stroke-width="0.8" fill="none"/>
<text x="299.6" y="408.7" font-size="10.0" text-anchor="middle">a</text>
<path d="M269.6 380.2V520.3H464.3" stroke="#555" stroke-width="1" fill="none"/>
<path d="M267.1 520.5H269.6" stroke="#555" stroke-width="1"/>
<text x="262.6" y="523.5" font-size="8.6" text-anchor="end">0</text>
<path d="M267.1 497.12H269.6" stroke="#555" stroke-width="1"/>
<text x="262.6" y="500.12" font-size="8.6" text-anchor="end">20</text>
<path d="M267.1 473.73H269.6" stroke="#555" stroke-width="1"/>
<text x="262.6" y="476.73" font-size="8.6" text-anchor="end">40</text>
<path d="M267.1 450.35H269.6" stroke="#555" stroke-width="1"/>
<text x="262.6" y="453.35" font-size="8.6" text-anchor="end">60</text>
<path d="M267.1 426.97H269.6" stroke="#555" stroke-width="1"/>
<text x="262.6" y="429.97" font-size="8.6" text-anchor="end">80</text>
<path d="M267.1 403.58H269.6" stroke="#555" stroke-width="1"/>
<text x="262.6" y="406.58" font-size="8.6" text-anchor="end">100</text>
<path d="M267.1 380.2H269.6" stroke="#555" stroke-width="1"/>
<text x="262.6" y="383.2" font-size="8.6" text-anchor="end">120</text>
<path d="M293.94 520.3V522.5" stroke="#555" stroke-width="1"/>
<text x="293.94" y="533.5" font-size="8.6" text-anchor="middle">0</text>
<path d="M342.61 520.3V522.5" stroke="#555" stroke-width="1"/>
<text x="342.61" y="533.5" font-size="8.6" text-anchor="middle">5</text>
<path d="M391.29 520.3V522.5" stroke="#555" stroke-width="1"/>
<text x="391.29" y="533.5" font-size="8.6" text-anchor="middle">10</text>
<path d="M439.96 520.3V522.5" stroke="#555" stroke-width="1"/>
<text x="439.96" y="533.5" font-size="8.6" text-anchor="middle">15</text>
<text x="343.6" y="387.2" font-size="10.0">(f) LIN</text>
<text x="328.5" y="546.7" font-size="9.3">Storage Time (Days)</text>
<text x="0" y="0" font-size="8.8" text-anchor="middle" dominant-baseline="central" transform="translate(249.1 449.3) rotate(-90) scale(1 0.86)">(%)</text>
</svg>
</body></html>
